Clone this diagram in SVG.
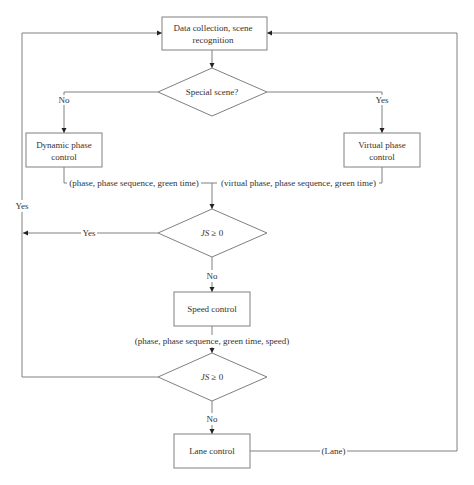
<svg xmlns="http://www.w3.org/2000/svg" width="474" height="485" viewBox="0 0 474 485">
<defs>
<marker id="arr" markerUnits="userSpaceOnUse" markerWidth="6" markerHeight="6" refX="5" refY="3" orient="auto">
<path d="M0,0.5 L5,3 L0,5.5 Z" fill="#222"/>
</marker>
<style>
.box{fill:#fff;stroke:#808080;stroke-width:1}
.ln{fill:none;stroke:#808080;stroke-width:1}
.t{font-family:"Liberation Serif",serif;font-size:9px;fill:#333;text-anchor:middle;dominant-baseline:central}
.i{font-style:italic}
</style>
</defs>
<rect width="474" height="485" fill="#fff"/>
<g id="connectors">
<line class="ln" x1="212" y1="50" x2="212" y2="68" marker-end="url(#arr)"/>
<polyline class="ln" points="158,92 64,92 64,95"/>
<line class="ln" x1="64" y1="105" x2="64" y2="133" marker-end="url(#arr)"/>
<polyline class="ln" points="267,92 382,92 382,95"/>
<line class="ln" x1="382" y1="105" x2="382" y2="133" marker-end="url(#arr)"/>
<polyline class="ln" points="64,167 64,183 67,183"/>
<polyline class="ln" points="382,167 382,183 379,183"/>
<line class="ln" x1="201" y1="183" x2="217" y2="183"/>
<line class="ln" x1="212" y1="183" x2="212" y2="209" marker-end="url(#arr)"/>
<line class="ln" x1="158" y1="233" x2="97" y2="233"/>
<line class="ln" x1="81" y1="233" x2="23" y2="233" marker-end="url(#arr)"/>
<line class="ln" x1="212" y1="257" x2="212" y2="270"/>
<line class="ln" x1="212" y1="282" x2="212" y2="292" marker-end="url(#arr)"/>
<line class="ln" x1="212" y1="326" x2="212" y2="335"/>
<line class="ln" x1="212" y1="347" x2="212" y2="353" marker-end="url(#arr)"/>
<line class="ln" x1="212" y1="401" x2="212" y2="413"/>
<line class="ln" x1="212" y1="425" x2="212" y2="434" marker-end="url(#arr)"/>
<polyline class="ln" points="158,377 22,377 22,212"/>
<polyline class="ln" points="22,200 22,33 162,33" marker-end="url(#arr)"/>
<line class="ln" x1="250" y1="451" x2="320" y2="451"/>
<polyline class="ln" points="347,451 457,451 457,33 267,33" marker-end="url(#arr)"/>
</g>
<g id="n1"><rect class="box" x="162" y="17" width="105" height="33"/><text class="t" x="213" y="27.5">Data collection, scene</text><text class="t" x="213" y="39.5">recognition</text></g>
<g id="n2"><polygon class="box" points="212,68 267,92 212,116 158,92"/><text class="t" x="212" y="92">Special scene?</text></g>
<g id="n3"><rect class="box" x="26" y="133" width="76" height="34"/><text class="t" x="64" y="144.5">Dynamic phase</text><text class="t" x="64" y="156.5">control</text></g>
<g id="n4"><rect class="box" x="344" y="133" width="76" height="34"/><text class="t" x="382" y="144.5">Virtual phase</text><text class="t" x="382" y="156.5">control</text></g>
<g id="n5"><polygon class="box" points="212,209 267,233 212,257 158,233"/><text class="t" x="212" y="233"><tspan class="i">JS</tspan> ≥ 0</text></g>
<g id="n6"><rect class="box" x="174" y="292" width="76" height="34"/><text class="t" x="212" y="309">Speed control</text></g>
<g id="n7"><polygon class="box" points="212,353 267,377 212,401 158,377"/><text class="t" x="212" y="377"><tspan class="i">JS</tspan> ≥ 0</text></g>
<g id="n8"><rect class="box" x="174" y="434" width="76" height="34"/><text class="t" x="212" y="451">Lane control</text></g>
<g id="labels">
<text class="t" x="64" y="100">No</text>
<text class="t" x="382" y="100">Yes</text>
<text class="t" x="134" y="183">(phase, phase sequence, green time)</text>
<text class="t" x="298.5" y="183">(virtual phase, phase sequence, green time)</text>
<text class="t" x="22" y="206">Yes</text>
<text class="t" x="89" y="233">Yes</text>
<text class="t" x="212" y="276">No</text>
<text class="t" x="212" y="341">(phase, phase sequence, green time, speed)</text>
<text class="t" x="212" y="419">No</text>
<text class="t" x="333.5" y="451">(Lane)</text>
</g>
</svg>
